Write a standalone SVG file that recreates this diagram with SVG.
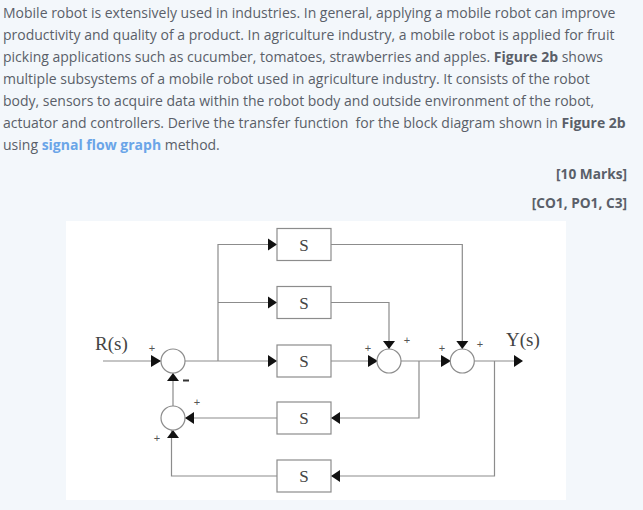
<svg xmlns="http://www.w3.org/2000/svg" width="643" height="510" viewBox="0 0 643 510">
<style>
.t{font:14px "Open Sans",sans-serif;fill:#5a5f69}
.b{font-weight:700}
.l{fill:#6aa5e8;font-weight:700}
.r{text-anchor:end;font:700 13.700px "Open Sans",sans-serif;fill:#5a5f69}
.s{font:17px "Liberation Serif",serif;fill:#444;text-anchor:middle}
.lab{font:19px "Liberation Serif",serif;fill:#444}
.p{font:11px "Liberation Sans",sans-serif;fill:#555;text-anchor:middle}
.n rect{fill:#fff;stroke:#8c8c8c;stroke-width:1.2}
.n circle{fill:#fff;stroke:#8c8c8c;stroke-width:1.2}
#connectors path{fill:none;stroke:#8c8c8c;stroke-width:1.2}
#connectors polygon{fill:#111}
</style>
<rect width="643" height="510" fill="#f3f7fb"/>
<rect x="66" y="221" width="500" height="279" fill="#fff"/>
<text class="t" x="3" y="18">Mobile robot is extensively used in industries. In general, applying a mobile robot can improve</text>
<text class="t" x="3" y="40">productivity and quality of a product. In agriculture industry, a mobile robot is applied for fruit</text>
<text class="t" x="3" y="62">picking applications such as cucumber, tomatoes, strawberries and apples. <tspan class="b">Figure 2b</tspan> shows</text>
<text class="t" x="3" y="84">multiple subsystems of a mobile robot used in agriculture industry. It consists of the robot</text>
<text class="t" x="3" y="106">body, sensors to acquire data within the robot body and outside environment of the robot,</text>
<text class="t" x="3" y="128" xml:space="preserve">actuator and controllers. Derive the transfer function  for the block diagram shown in <tspan class="b">Figure 2b</tspan></text>
<text class="t" x="3" y="150">using <tspan class="l">signal flow graph</tspan> method.</text>
<text class="r" x="627" y="179">[10 Marks]</text>
<text class="r" x="627" y="208">[CO1, PO1, C3]</text>
<g id="connectors">
<path d="M103 361H161M185 361H277M218 361V244.500H277M218 302.500H277"/>
<path d="M331 244.500H462.300V349M331 302.500H389V349M331 361H377M401 361H450.300M474.300 361H522"/>
<path d="M419 361V418H331M494.500 361V476H331"/>
<path d="M277 418H185M277 476H171.500V430M173 406V373"/>
<polygon points="151,355 161,361 151,367"/>
<polygon points="268,238.500 277,244.500 268,250.500"/>
<polygon points="268,296.500 277,302.500 268,308.500"/>
<polygon points="268,355 277,361 268,367"/>
<polygon points="368,355 378,361 368,367"/>
<polygon points="441,355 451,361 441,367"/>
<polygon points="514,355 523,361 514,367"/>
<polygon points="383,341 395,341 389,349"/>
<polygon points="456.300,341 468.300,341 462.300,349"/>
<polygon points="340,412 331,418 340,424"/>
<polygon points="340,470 331,476 340,482"/>
<polygon points="194,412 185,418 194,424"/>
<polygon points="167,381 179,381 173,373"/>
<polygon points="167,438 179,438 173,430"/>
</g>
<g id="node-s1" class="n"><rect x="277" y="228.500" width="54" height="32"/><text class="s" x="304" y="251">S</text></g>
<g id="node-s2" class="n"><rect x="277" y="286.500" width="54" height="32"/><text class="s" x="304" y="309">S</text></g>
<g id="node-s3" class="n"><rect x="277" y="345" width="54" height="32"/><text class="s" x="304" y="367">S</text></g>
<g id="node-s4" class="n"><rect x="277" y="402" width="54" height="32"/><text class="s" x="304" y="424">S</text></g>
<g id="node-s5" class="n"><rect x="277" y="460" width="54" height="32"/><text class="s" x="304" y="482">S</text></g>
<g id="sum1" class="n"><circle cx="173" cy="361" r="12"/></g>
<g id="sum2" class="n"><circle cx="173" cy="418" r="12"/></g>
<g id="sum3" class="n"><circle cx="389" cy="361" r="12"/></g>
<g id="sum4" class="n"><circle cx="462.300" cy="361" r="12"/></g>
<g id="labels">
<text class="lab" x="95" y="350">R(s)</text>
<text class="lab" x="506" y="346">Y(s)</text>
<text class="p" x="152" y="352">+</text>
<rect x="183" y="379.500" width="6" height="2" fill="#333"/>
<text class="p" x="197" y="406">+</text>
<text class="p" x="157" y="442">+</text>
<text class="p" x="368" y="352">+</text>
<text class="p" x="407" y="344">+</text>
<text class="p" x="442" y="352">+</text>
<text class="p" x="480" y="348">+</text>
</g>
</svg>
